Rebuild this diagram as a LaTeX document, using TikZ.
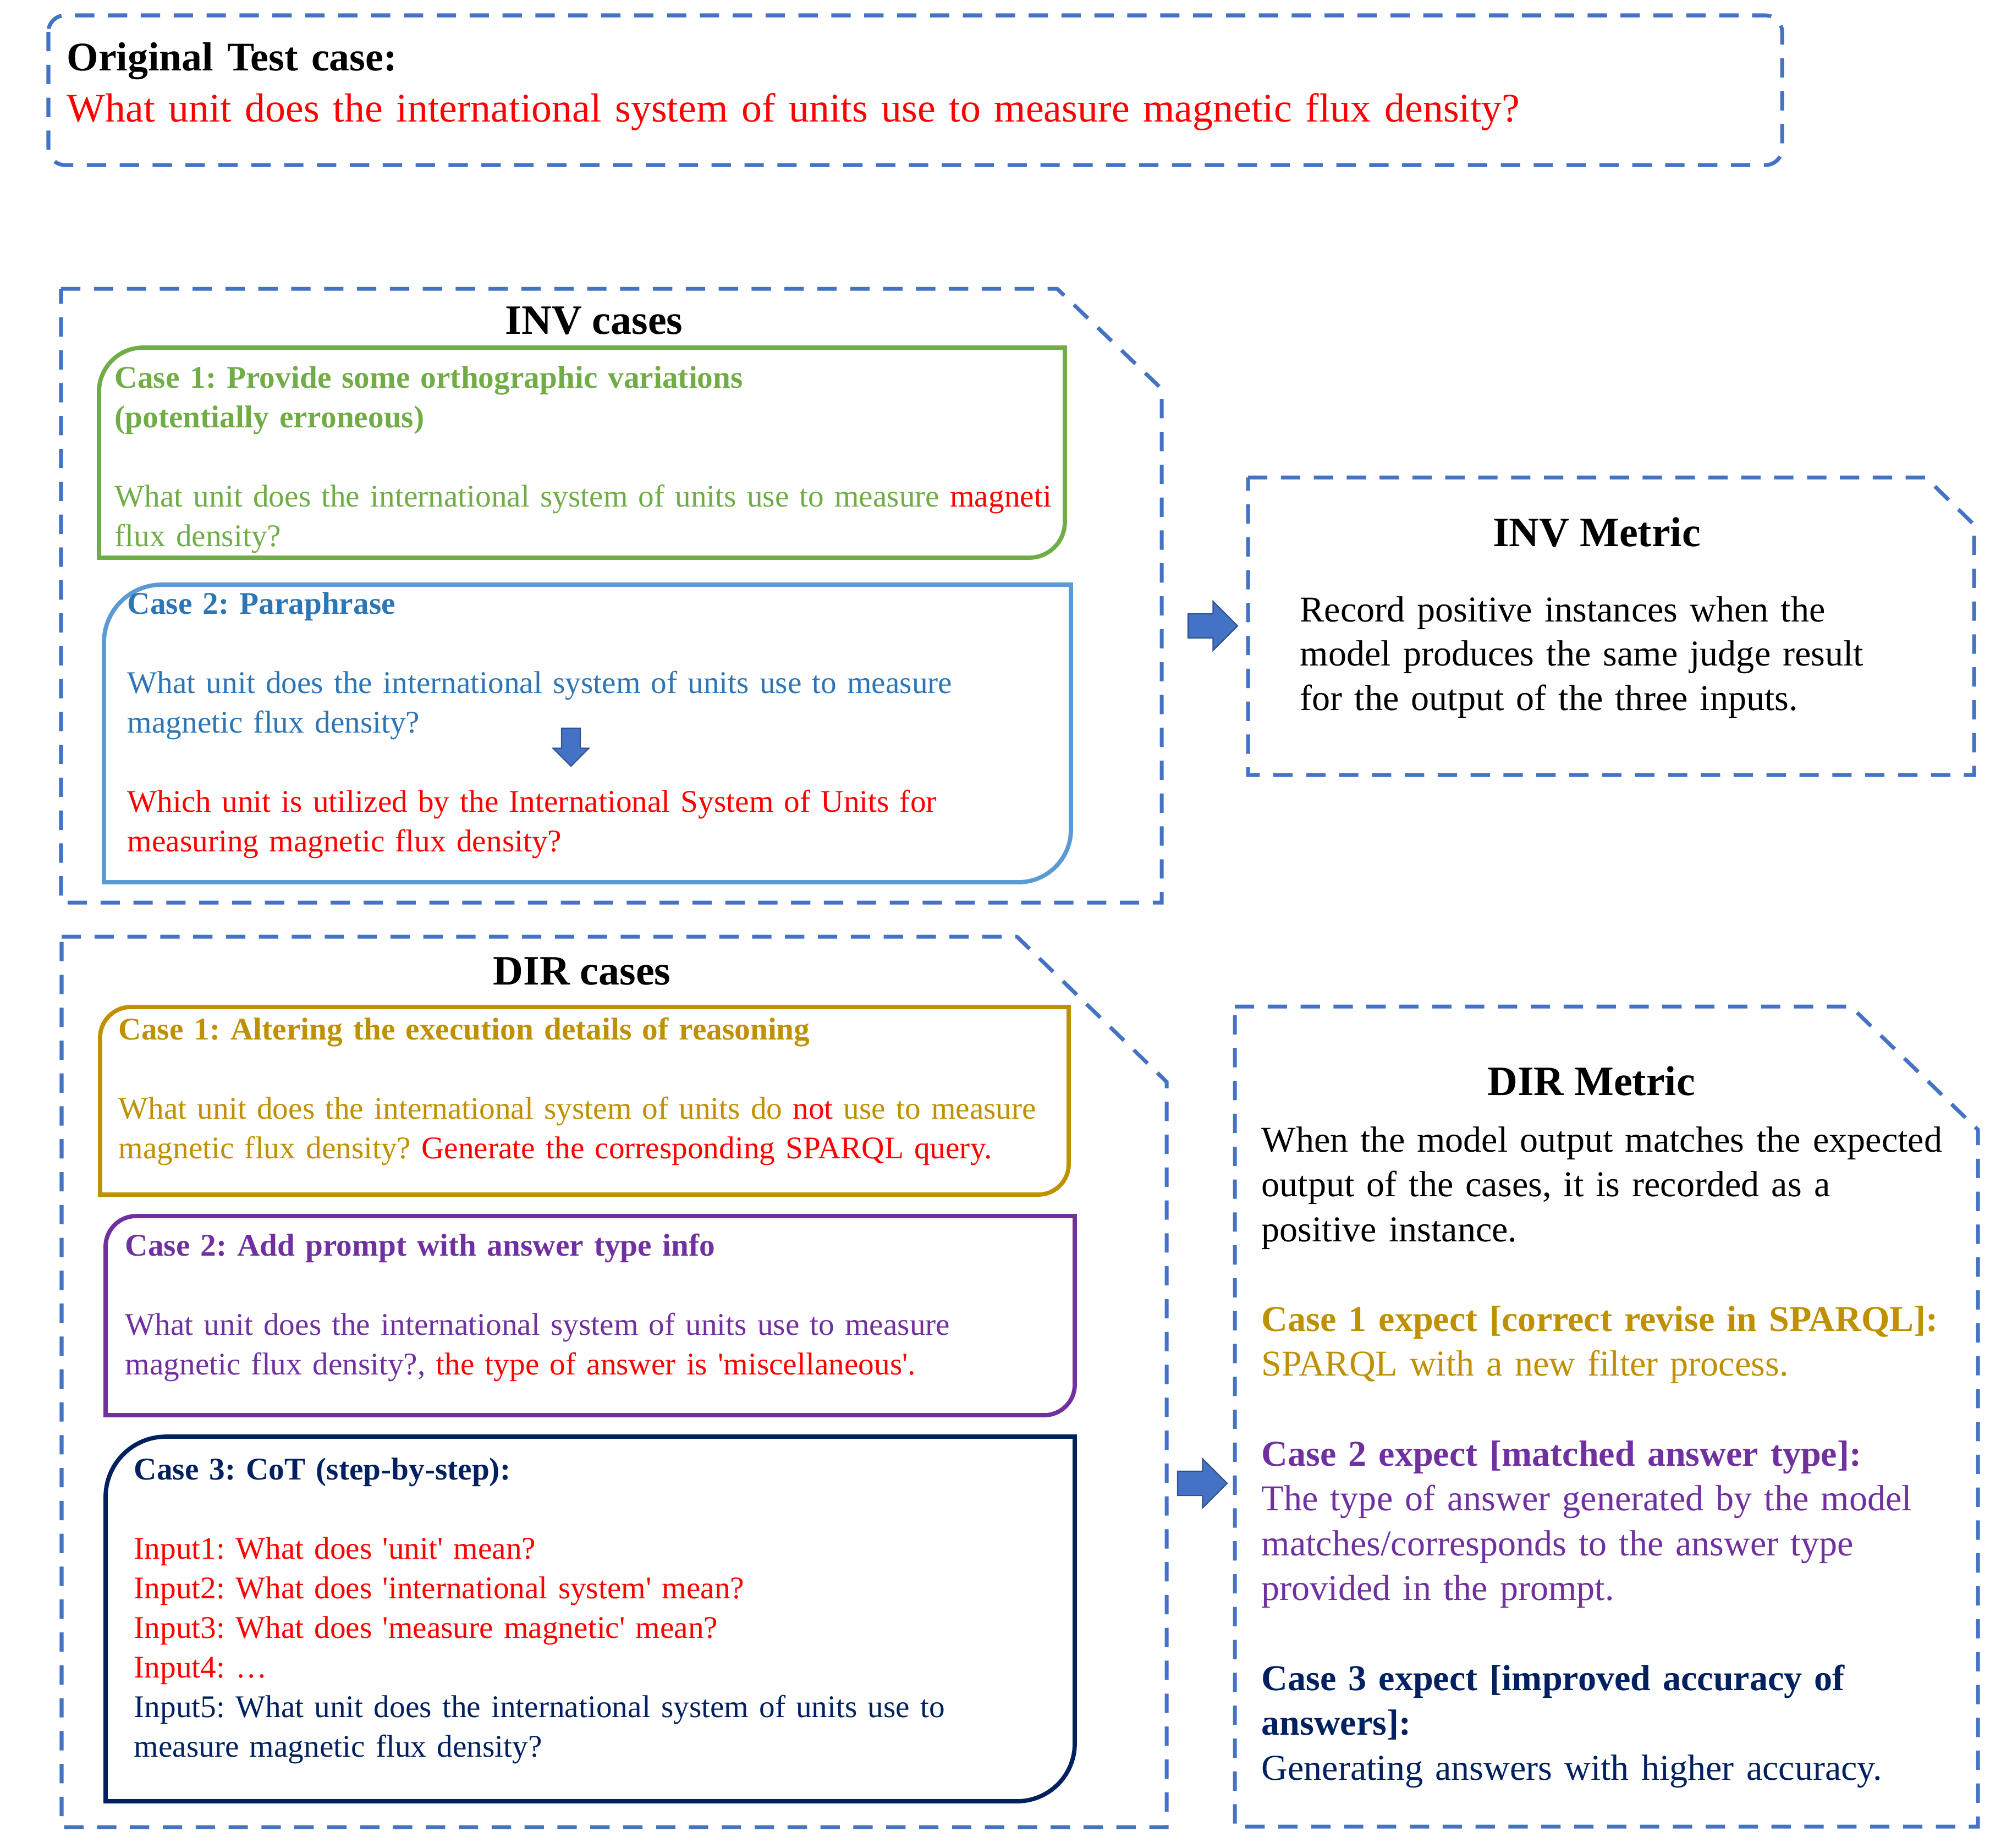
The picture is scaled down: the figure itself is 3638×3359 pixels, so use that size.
\documentclass[tikz,border=0pt]{standalone}
\usepackage{fontspec}
\setmainfont{Liberation Serif}
\frenchspacing
\usetikzlibrary{shapes.arrows}
\definecolor{dashblue}{HTML}{4472C4}
\definecolor{arrowedge}{HTML}{2F528F}
\definecolor{casegreen}{HTML}{70AD47}
\definecolor{caseblue}{HTML}{5B9BD5}
\definecolor{blueink}{HTML}{2E75B6}
\definecolor{casegold}{HTML}{BF9000}
\definecolor{casepurple}{HTML}{7030A0}
\definecolor{casenavy}{HTML}{002060}
\definecolor{hired}{HTML}{FF0000}
\def\casefont{\fontsize{16.3}{20.5}\selectfont}
\def\metricfont{\fontsize{18.8}{22.9}\selectfont}
\def\titlefont{\fontsize{21.6}{26}\selectfont\bfseries}
\def\Qunits{What unit does the international system of units}

\begin{document}
\begin{tikzpicture}[x=0.01cm,y=-0.01cm,% one unit = one pixel of the page, y downwards
    every node/.style={
      inner sep=0pt,    % text starts exactly at the given point
      anchor=base west  % points are the baselines of the first lines
    },
    casetext/.style={text width=18cm,align=left,font=\casefont},
    metrictext/.style={text width=13.2cm,align=left,font=\metricfont},
    heading/.style={anchor=base,font=\titlefont},
    dashbox/.style={draw=dashblue,line width=2pt,dash pattern=on 10pt off 7pt},
    casebox/.style={line width=2.2pt},
    blockarrow/.style={single arrow,anchor=center,draw=arrowedge,fill=dashblue,line width=0.6pt,
      inner sep=0.21cm,single arrow head extend=0.225cm,minimum height=0.9cm}
  ]
  \useasboundingbox (0,0) rectangle (3638,3359);

  % original test case
  \draw[dashbox,rounded corners=0.3cm] (88,28) rectangle (3240,300);
  \node[text width=31cm,align=left,font=\fontsize{21}{26.5}\selectfont](Orig) at (121,128)
    {\textbf{Original Test case:}\\ \textcolor{hired}{\Qunits{} use to measure magnetic flux density?}};

  % INV cases
  \draw[dashbox] (111,525) -- (1922,525) -- (2112,707) -- (2112,1641) -- (111,1641) -- cycle;
  \node[heading](INVt) at (1080,607) {INV cases};
  \draw[casebox,casegreen] (180,1014) -- (180,712) .. controls (180,668) and (216,632) .. (260,632)
    -- (1936,632) -- (1936,949) .. controls (1936,985) and (1907,1014) .. (1871,1014) -- cycle;
  \node[casetext,text=casegreen](INVa) at (208,705)
    {\textbf{Case 1: Provide some orthographic variations}\\ \textbf{(potentially erroneous)}\\[\baselineskip]
     \Qunits{} use to measure \textcolor{hired}{magneti}\\ flux density?};
  \draw[casebox,caseblue] (189,1604) -- (189,1168) .. controls (189,1110) and (236,1063) .. (294,1063)
    -- (1947,1063) -- (1947,1509) .. controls (1947,1561) and (1904,1604) .. (1852,1604) -- cycle;
  \node[casetext,text=blueink](INVb) at (231,1116)
    {\textbf{Case 2: Paraphrase}\\[\baselineskip]
     \Qunits{} use to measure\\ magnetic flux density?\\[\baselineskip]
     \textcolor{hired}{Which unit is utilized by the International System of Units for}\\
     \textcolor{hired}{measuring magnetic flux density?}};
  \node[blockarrow,shape border rotate=270,inner sep=0.16cm,single arrow head extend=0.155cm,
    minimum height=0.69cm](INVdown) at (1038,1350) {};

  % INV metric
  \node[blockarrow](INVarr) at (2194,1138) {};
  \draw[dashbox] (2269,868) -- (3501,868) -- (3589,954) -- (3589,1409) -- (2269,1409) -- cycle;
  \node[heading](INVm) at (2903,993) {INV Metric};
  \node[metrictext](INVmt) at (2363,1130)
    {Record positive instances when the\\ model produces the same judge result\\ for the output of the three inputs.};

  % DIR cases
  \draw[dashbox] (112,1703) -- (1849,1703) -- (2121,1967) -- (2121,3322) -- (112,3322) -- cycle;
  \node[heading](DIRt) at (1058,1790) {DIR cases};
  \draw[casebox,casegold] (182,2172) -- (182,1886) .. controls (182,1856) and (207,1831) .. (237,1831)
    -- (1943,1831) -- (1943,2117) .. controls (1943,2147) and (1918,2172) .. (1888,2172) -- cycle;
  \node[casetext,text=casegold](DIRa) at (215,1890)
    {\textbf{Case 1: Altering the execution details of reasoning}\\[\baselineskip]
     \Qunits{} do \textcolor{hired}{not} use to measure\\
     magnetic flux density? \textcolor{hired}{Generate the corresponding SPARQL query.}};
  \draw[casebox,casepurple] (192,2573) -- (192,2266) .. controls (192,2236) and (217,2211) .. (247,2211)
    -- (1954,2211) -- (1954,2518) .. controls (1954,2548) and (1929,2573) .. (1899,2573) -- cycle;
  \node[casetext,text=casepurple](DIRb) at (227,2283)
    {\textbf{Case 2: Add prompt with answer type info}\\[\baselineskip]
     \Qunits{} use to measure\\
     magnetic flux density?, \textcolor{hired}{the type of answer is \textquotesingle miscellaneous\textquotesingle.}};
  \draw[casebox,casenavy] (192,3275) -- (192,2722) .. controls (192,2661) and (241,2612) .. (302,2612)
    -- (1954,2612) -- (1954,3170) .. controls (1954,3228) and (1907,3275) .. (1849,3275) -- cycle;
  \node[casetext,text=casenavy](DIRc) at (243,2690)
    {\textbf{Case 3: CoT (step-by-step):}\\[\baselineskip]
     \textcolor{hired}{Input1: What does \textquotesingle unit\textquotesingle{} mean?}\\
     \textcolor{hired}{Input2: What does \textquotesingle international system\textquotesingle{} mean?}\\
     \textcolor{hired}{Input3: What does \textquotesingle measure magnetic\textquotesingle{} mean?}\\
     \textcolor{hired}{Input4: …}\\
     Input5: \Qunits{} use to\\ measure magnetic flux density?};

  % DIR metric
  \node[blockarrow](DIRarr) at (2175,2697) {};
  \draw[dashbox] (2245,1830) -- (3365,1830) -- (3596,2054) -- (3596,3321) -- (2245,3321) -- cycle;
  \node[heading](DIRm) at (2893,1991) {DIR Metric};
  \node[metrictext,font=\fontsize{18.8}{23.2}\selectfont](DIRmt) at (2293,2094)
    {When the model output matches the expected\\ output of the cases, it is recorded as a\\ positive instance.\\[\baselineskip]
     {\color{casegold}\textbf{Case 1 expect [correct revise in SPARQL]:}\\ SPARQL with a new filter process.}\\[\baselineskip]
     {\color{casepurple}\textbf{Case 2 expect [matched answer type]:}\\ The type of answer generated by the model\\
      matches/corresponds to the answer type\\ provided in the prompt.}\\[\baselineskip]
     {\color{casenavy}\textbf{Case 3 expect [improved accuracy of}\\ \textbf{answers]:}\\
      Generating answers with higher accuracy.}};
\end{tikzpicture}
\end{document}
